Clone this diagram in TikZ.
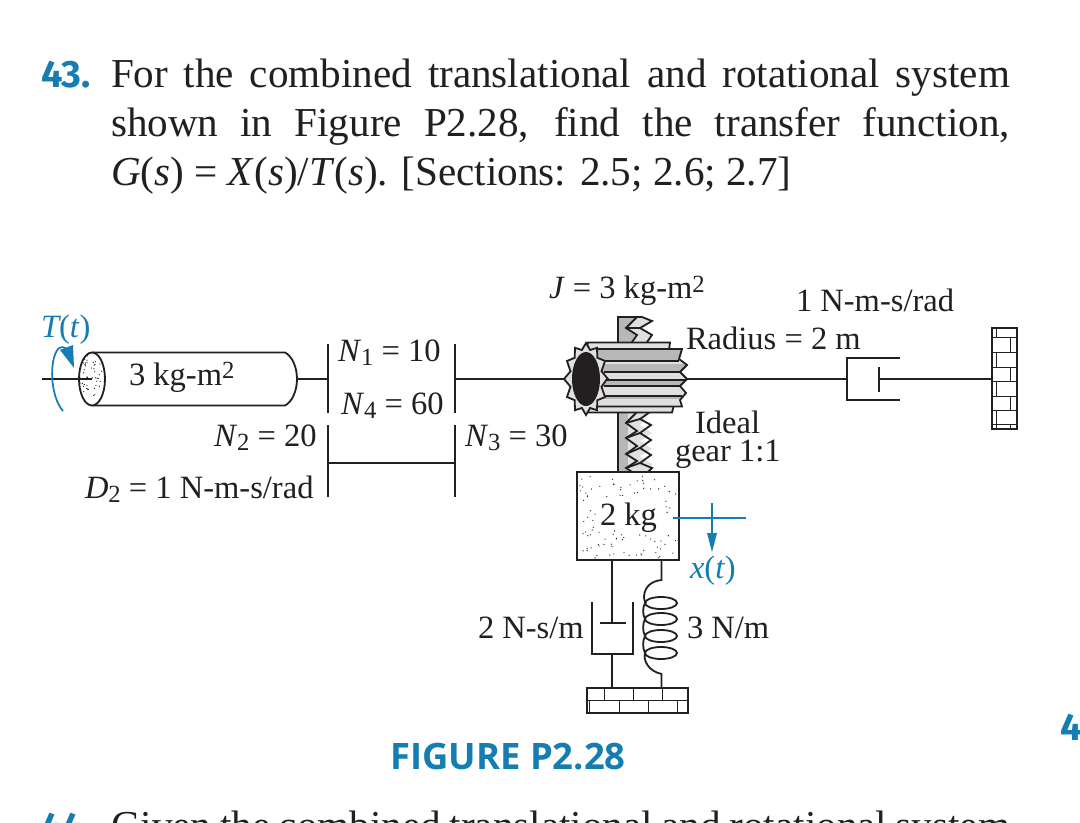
\documentclass[tikz,border=0pt]{standalone}
\usepackage{fontspec}
\setmainfont{Liberation Serif}
\newfontfamily\headfont{Fira Sans}
\newfontfamily\capfont{Open Sans}
\definecolor{bookblue}{RGB}{20,125,178}
\definecolor{inkblack}{RGB}{35,31,32}
\definecolor{gearmid}{gray}{0.72}
\definecolor{gearlight}{gray}{0.88}
\newcommand{\bodyfont}{\fontsize{30.85}{36}\selectfont}
\newcommand{\numfont}{\fontsize{28.6}{34}\selectfont}
\newcommand{\labfont}{\fontsize{24.4}{29}\selectfont}
\newcommand{\upidx}[1]{\raisebox{4.6pt}{\fontsize{18.5}{20}\selectfont #1}}
\newcommand{\dnidx}[1]{\raisebox{-3.2pt}{\fontsize{18.5}{20}\selectfont #1}}
\newcommand{\stipple}[6]{% x0 y0 w h count seed
  \pgfmathsetseed{#6}
  \foreach \k in {1,...,#5}{
    \pgfmathsetmacro{\dx}{#1+rnd*#3}
    \pgfmathsetmacro{\dy}{#2+rnd*#4}
    \fill[inkblack] (\dx,\dy) circle[radius=0.65];
  }}
\tikzset{
  x=0.75pt,y=-0.75pt,
  line/.style={draw=inkblack,line width=1.35pt},
  thin line/.style={draw=inkblack,line width=0.55pt},
  gearline/.style={draw=inkblack,line width=1.35pt,line join=miter},
  lab/.style={anchor=base west,inner sep=0pt,outer sep=0pt,text=inkblack,font=\labfont},
  bluelab/.style={lab,text=bookblue},
  body/.style={anchor=base west,inner sep=0pt,outer sep=0pt,text=inkblack,font=\bodyfont},
  num/.style={anchor=base west,inner sep=0pt,outer sep=0pt,text=bookblue,font=\headfont\bfseries\numfont},
  blueline/.style={draw=bookblue,line width=1.2pt},
}
\begin{document}
\begin{tikzpicture}
\useasboundingbox (0,0) rectangle (1080,823);
\clip (0,0) rectangle (1080,823);
\fill[white] (0,0) rectangle (1080,823);

% ---------- text of the problem
\node[num] (n43) at (41,88) {43.};
\node[body] (l1) at (111,88) {\makebox[674.25pt][s]{For the combined translational and rotational system}};
\node[body] (l2) at (111,137) {\makebox[674.25pt][s]{shown in Figure P2.28, find the transfer function,}};
\node[body] (l3) at (111,186) {\textit{G}(\textit{s}) = \textit{X}(\textit{s})/\textit{T}(\textit{s}). [Sections: 2.5; 2.6; 2.7]};
\node[num] (n44) at (41,839) {44.};
\node[body] (l4) at (111,839) {\makebox[674.25pt][s]{Given the combined translational and rotational system}};
\node[num] (edge4) at (1060,740) {4};
\node[anchor=base west,inner sep=0pt,text=bookblue,font=\capfont\bfseries\fontsize{27.3}{30}\selectfont] (figcap) at (390,769) {FIGURE P2.28};

% ---------- named points
\coordinate (shaftL) at (42,379);
\coordinate (cylC) at (92,379);
\coordinate (cylR) at (297,379);
\coordinate (g1) at (328,379);
\coordinate (g4) at (455,379);
\coordinate (gearL) at (566,379);
\coordinate (gearR) at (687,379);
\coordinate (dampL) at (847,379);
\coordinate (piston) at (879,379);
\coordinate (wall) at (992,379);
\coordinate (g2) at (328,463);
\coordinate (g3) at (455,463);
\coordinate (massA) at (612,560);
\coordinate (massB) at (661.5,560);
\coordinate (pistonB) at (612,623);
\coordinate (cupB) at (612,654);
\coordinate (groundA) at (612,688);
\coordinate (groundB) at (661.5,688);

% ---------- shafts
\draw[line] (shaftL) -- (cylC);
\draw[line] (cylR) -- (g1);
\draw[line] (g4) -- (gearL);
\draw[line] (gearR) -- (dampL);
\draw[line] (piston) -- (wall);
\draw[line] (g2) -- (g3);

% ---------- left inertia
\draw[line,fill=white] (92,352.5) -- (285,352.5) .. controls (292,356) and (297,367) .. (297,379) .. controls (297,391) and (292,402) .. (285,405.5) -- (92,405.5);
\draw[line,fill=white] (cylC) ellipse[x radius=13,y radius=26.5];
\begin{scope}
  \clip (cylC) ellipse[x radius=13,y radius=26.5];
  \stipple{79}{352}{26}{54}{55}{11}
\end{scope}
\draw[line] (shaftL) -- (cylC);

% ---------- torque arrow
\draw[blueline,line width=1.3pt] (63,411) .. controls (50,396) and (49,360) .. (58,349) .. controls (61,346) and (65,347) .. (68,350);
\fill[bookblue] (74,368) -- (60,350) -- (73,345) -- cycle;

% ---------- gears N1..N4
\draw[line] (328,344) -- (328,413);
\draw[line] (455,344) -- (455,413);
\draw[line] (328,425) -- (328,497);
\draw[line] (455,425) -- (455,497);

% ---------- rack, upper part
\fill[gearlight] (618,317) -- (640,317) -- (652,321) -- (640,328) -- (652,335) -- (645,345) -- (618,345) -- cycle;
\fill[gearmid] (618,317) -- (637,317) -- (626,328) -- (637,335) -- (630,345) -- (618,345) -- cycle;
\draw[gearline] (618,345) -- (618,317) -- (642,317) -- (652,321) -- (640,328) -- (652,335) -- (645,345);
\draw[gearline] (637,317) -- (626,328) -- (637,335) -- (630,345);
\draw[gearline] (640,328) -- (626,328);
% ---------- rack, lower part
\fill[gearmid] (618,410) rectangle (638,472);
\fill[gearlight] (628,412) -- (650,412) -- (640,425) -- (652,433) -- (640,441) -- (652,449) -- (640,456) -- (652,464) -- (650,472) -- (628,472) -- cycle;
\draw[gearline] (618,472) -- (618,410);
\draw[gearline] (650,412) -- (640,419) -- (651,425) -- (640,433) -- (651,440) -- (640,448) -- (651,455) -- (640,463) -- (652,468) -- (648,472);
\draw[gearline] (637,412) -- (626,423) -- (637,431) -- (626,438) -- (637,446) -- (626,454) -- (637,461) -- (626,468) -- (632,472);
\draw[gearline] (640,419) -- (626,423) (640,433) -- (626,438) (640,448) -- (626,454) (640,463) -- (626,468);

% ---------- gear body
\draw[gearline,fill=gearlight] (588,342.5) -- (670,342.5) -- (669,350) -- (586,350) -- cycle;
\draw[gearline,fill=gearlight] (586,405) -- (674,405) -- (672,412.5) -- (586,412.5) -- cycle;
\begin{scope}
  \clip (596,349) -- (682,349) -- (679,359) -- (687,365) -- (680,372) -- (687,379) -- (680,386) -- (686,393) -- (680,400) -- (682,406.5) -- (596,406.5) -- cycle;
  \fill[gearmid] (590,349) rectangle (690,361);
  \fill[gearlight] (590,361) rectangle (690,364);
  \fill[gearmid] (590,364) rectangle (690,372);
  \fill[gearlight] (590,372) rectangle (690,380);
  \fill[gearmid] (590,380) rectangle (690,386);
  \fill[gearlight] (590,386) rectangle (690,395);
  \fill[gearmid] (590,395) rectangle (690,399);
  \fill[gearlight] (590,399) rectangle (690,407);
\end{scope}
\draw[gearline] (596,349) -- (682,349) -- (679,359) -- (687,365) -- (680,372) -- (687,379) -- (680,386) -- (686,393) -- (680,400) -- (682,406.5) -- (596,406.5);
\draw[gearline] (600,361) -- (679,361) (604,372) -- (680,372) (606,380) -- (687,380) (604,386) -- (680,386) (600,396) -- (682,396);

% ---------- gear end face
\draw[gearline,fill=gearlight]
  ({586+21*cos(0)},{379+35*sin(0)})
  \foreach \a in {15,45,...,345}{
    -- ({586+16*cos(\a)},{379+30*sin(\a)})
    -- ({586+22*cos(\a+15)},{379+36*sin(\a+15)})
  } -- cycle;
\fill[inkblack] (586,379) ellipse[x radius=14,y radius=27];

% ---------- mass
\draw[line,fill=white] (577,472) rectangle (679,560);
\stipple{580}{475}{97}{83}{110}{7}
\fill[white] (598,498) rectangle (660,532);
\stipple{596}{530}{30}{6}{3}{21}
\node[lab] (masslab) at (600,525) {2 kg};

% ---------- motion arrow
\draw[blueline] (673,518) -- (746,518);
\draw[blueline] (712,503) -- (712,540);
\fill[bookblue] (712,552) -- (707,533) -- (717,533) -- cycle;
\node[bluelab] (xt) at (690,578) {\textit{x}(\textit{t})};

% ---------- lower damper
\draw[line] (massA) -- (pistonB);
\draw[line] (600,623) -- (626,623);
\draw[line] (592,602) -- (592,654) -- (633,654) -- (633,602);
\draw[line] (cupB) -- (groundA);

% ---------- lower spring
\draw[line] (massB) -- (661.5,580) .. controls (652,581) and (645,586) .. (644,596) .. controls (644,600) and (645,602) .. (646,603);
\foreach \yy in {603,619,636,653}{
  \draw[line] (661,\yy) ellipse[x radius=16,y radius=6];
}
\draw[line] (645,603) .. controls (642.5,608) and (642.5,614) .. (645,619) .. controls (642.5,624) and (642.5,631) .. (645,636) .. controls (642.5,641) and (642.5,648) .. (645,653);
\draw[line] (645,653) .. controls (643,660) and (648,671) .. (661.5,674) -- (groundB);

% ---------- lower ground
\draw[line,fill=white] (587,688) rectangle (688,713);
\draw[thin line] (587,700) -- (688,700);
\foreach \xx in {604,633,662}{\draw[thin line] (\xx,688) -- (\xx,700);}
\foreach \xx in {589.5,619,648,677}{\draw[thin line] (\xx,700) -- (\xx,713);}

% ---------- right damper
\draw[line] (900,358) -- (847,358) -- (847,400) -- (900,400);
\draw[line] (879,367) -- (879,392);

% ---------- right wall
\draw[line,fill=white] (992,328) rectangle (1017,429);
\foreach \yy in {337,352,367,381,396,410,424}{\draw[thin line] (992,\yy) -- (1017,\yy);}
\foreach \yy/\zz in {337/352,367/381,396/410}{\draw[thin line] (1010,\yy) -- (1010,\zz);}
\foreach \yy/\zz in {352/367,381/396,410/429}{\draw[thin line] (996,\yy) -- (996,\zz);}
\draw[thin line] (1010,424) -- (1010,429);
\draw[thin line] (996,328) -- (996,337);

% ---------- labels
\node[lab] (jlab) at (549,299) {\textit{J} = 3 kg-m\upidx{2}};
\node[lab] (dlab) at (796,311) {1 N-m-s/rad};
\node[lab] (rlab) at (686,349) {Radius = 2 m};
\node[bluelab] (tlab) at (41,337) {\textit{T}\kern-1.5pt(\textit{t})};
\node[lab] (ilab) at (129,385) {3 kg-m\upidx{2}};
\node[lab] (n1) at (338,361) {\textit{N}\dnidx{1} = 10};
\node[lab] (n4) at (341,414) {\textit{N}\dnidx{4} = 60};
\node[lab] (n2) at (214,446) {\textit{N}\dnidx{2} = 20};
\node[lab] (d2) at (85,498) {\textit{D}\dnidx{2} = 1 N-m-s/rad};
\node[lab] (n3) at (465,446) {\textit{N}\dnidx{3} = 30};
\node[lab] (ideal) at (695,433) {Ideal};
\node[lab] (ratio) at (675,461) {gear 1:1};
\node[lab] (c2) at (478,638) {2 N-s/m};
\node[lab] (k3) at (687,638) {3 N/m};
\end{tikzpicture}
\end{document}
